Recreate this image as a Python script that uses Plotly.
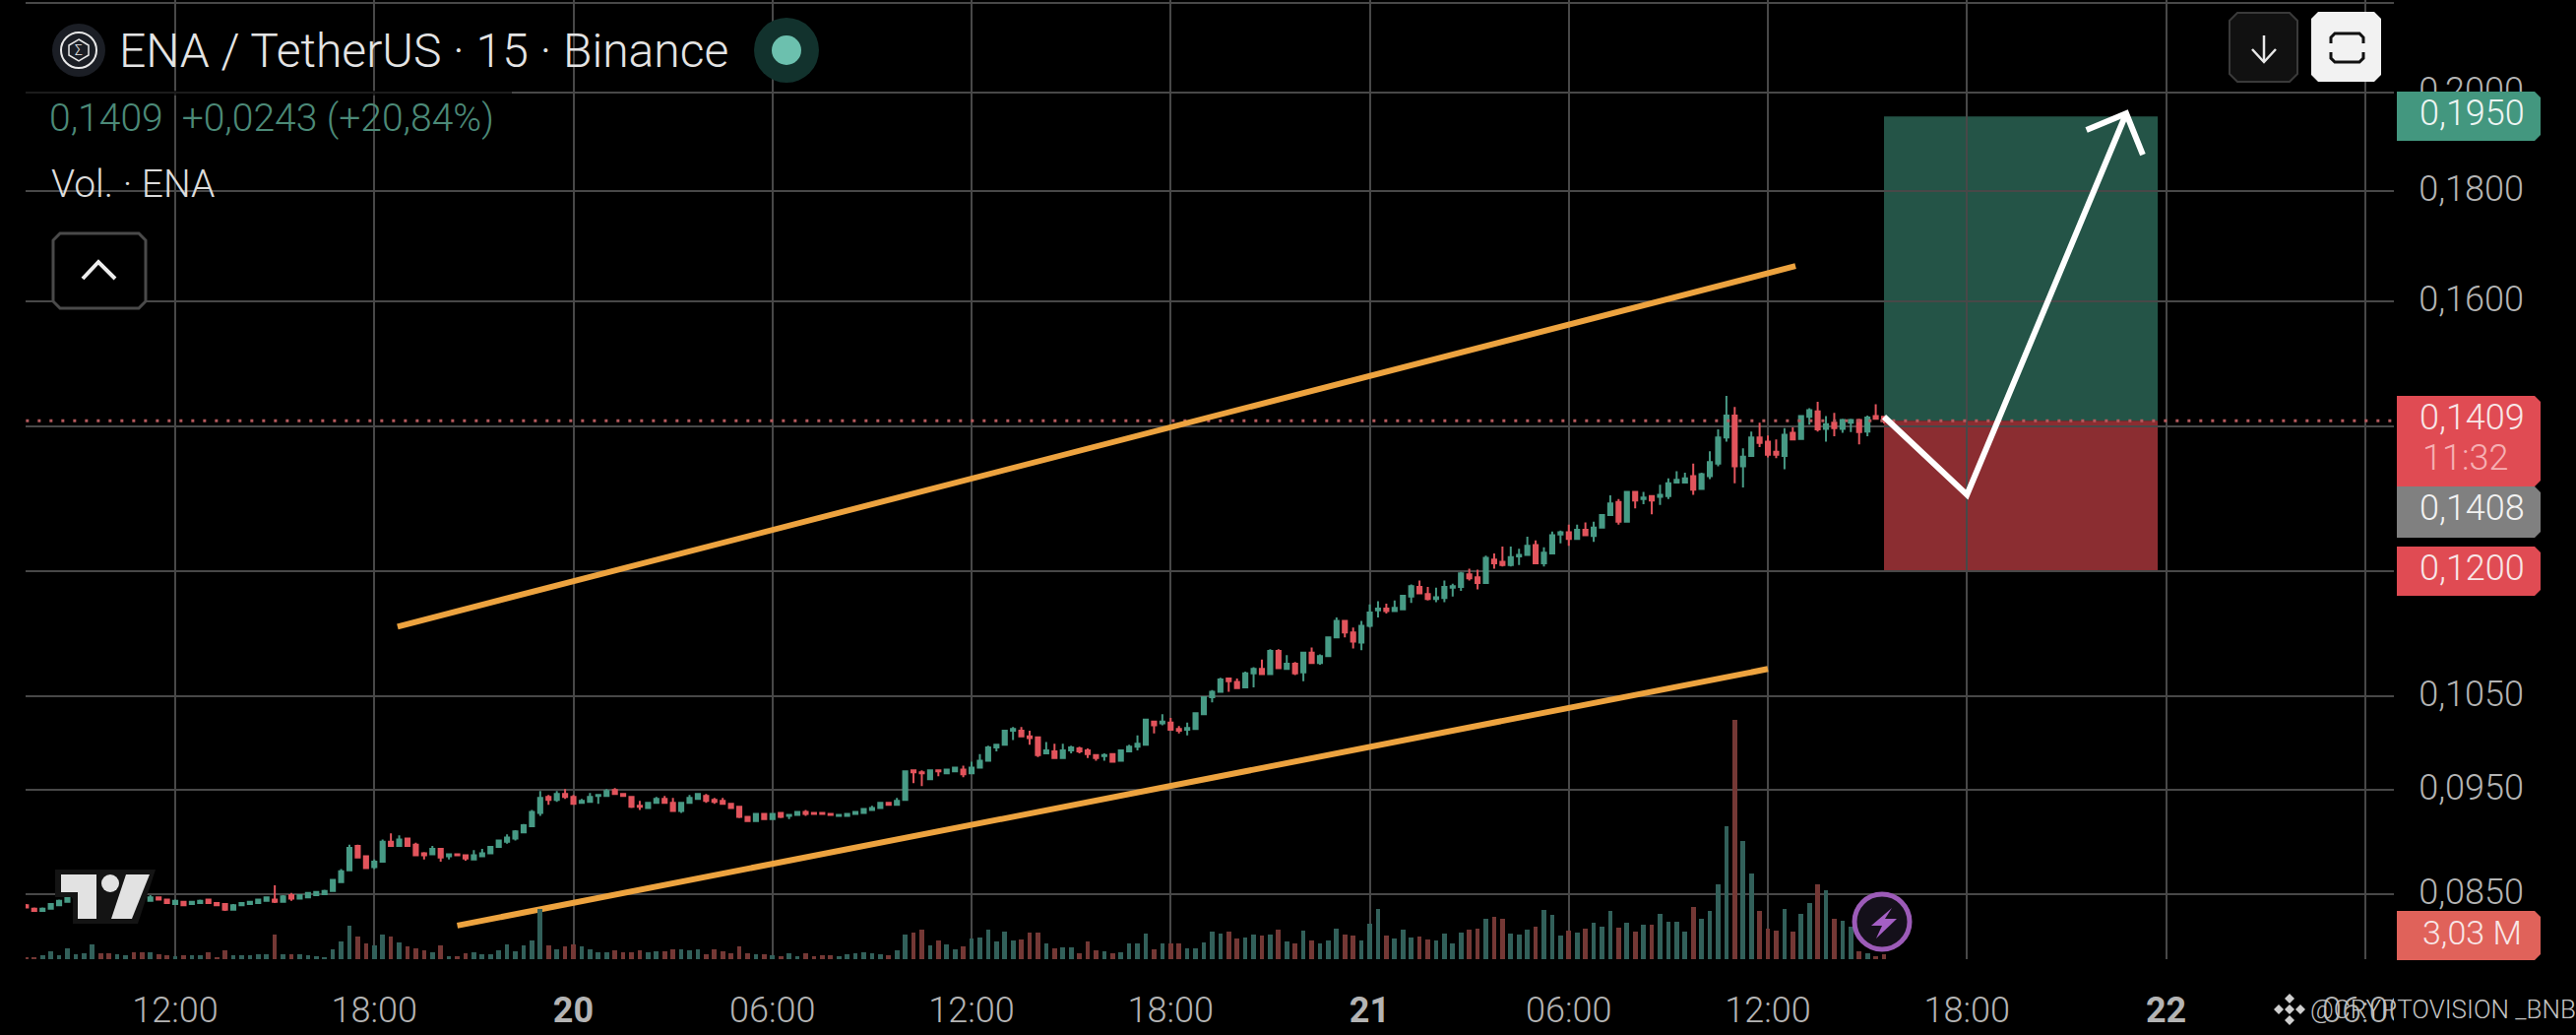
import numpy as np
import pandas as pd
import plotly.graph_objects as go

# Data (15 min bars, ENA/USDT)
bar_start = "2025-01-19 07:30"
opens = [.0840,.0837,.0835,.0837,.0840,.0843,.0847,.0848,.0849,.0851,.0850,.0849,.0850,.0851,.0849,.0844,.0847,.0845,.0841,.0843,
         .0841,.0842,.0845,.0842,.0841,.0836,.0840,.0841,.0842,.0844,.0845,.0843,.0849,.0846,.0847,.0849,.0850,.0853,.0861,.0872,
         .0895,.0885,.0875,.0880,.0899,.0895,.0902,.0896,.0888,.0887,.0892,.0885,.0887,.0886,.0882,.0885,.0888,.0894,.0899,.0902,
         .0908,.0914,.0927,.0943,.0940,.0946,.0943,.0937,.0938,.0944,.0944,.0950,.0946,.0943,.0934,.0932,.0937,.0941,.0937,.0929,
         .0937,.0941,.0944,.0940,.0939,.0936,.0933,.0923,.0919,.0926,.0921,.0927,.0924,.0925,.0928,.0927,.0927,.0926,.0924,.0924,
         .0926,.0927,.0930,.0932,.0937,.0935,.0940,.0970,.0968,.0961,.0970,.0967,.0969,.0971,.0967,.0973,.0980,.0994,.0997,.1012,
         .1012,.1006,.1005,.0988,.0990,.0983,.0991,.0993,.0991,.0986,.0985,.0987,.0980,.0990,.0995,.0997,.1022,.1020,.1021,.1014,
         .1013,.1014,.1030,.1049,.1055,.1070,.1066,.1060,.1076,.1081,.1075,.1102,.1081,.1087,.1077,.1100,.1088,.1096,.1118,.1138,
         .1124,.1112,.1132,.1151,.1153,.1150,.1152,.1168,.1180,.1171,.1165,.1166,.1179,.1180,.1196,.1192,.1185,.1215,.1212,.1208,
         .1219,.1221,.1234,.1210,.1223,.1248,.1251,.1242,.1254,.1246,.1257,.1274,.1292,.1265,.1306,.1296,.1300,.1299,.1300,.1319,
         .1319,.1328,.1310,.1328,.1346,.1384,.1417,.1342,.1357,.1384,.1378,.1363,.1357,.1391,.1382,.1415,.1423,.1397,.1406,.1397,
         .1406,.1410,.1393,.1416,.1415]
closes = [.0838,.0835,.0837,.0841,.0844,.0847,.0848,.0849,.0851,.0850,.0849,.0850,.0851,.0849,.0846,.0847,.0845,.0842,.0844,.0840,
          .0843,.0844,.0842,.0840,.0836,.0840,.0842,.0843,.0845,.0847,.0843,.0848,.0846,.0849,.0851,.0852,.0853,.0863,.0871,.0893,
          .0884,.0874,.0880,.0899,.0895,.0901,.0895,.0886,.0886,.0892,.0884,.0887,.0886,.0883,.0886,.0888,.0894,.0900,.0903,.0909,
          .0915,.0928,.0942,.0940,.0946,.0943,.0936,.0939,.0943,.0945,.0949,.0946,.0944,.0933,.0933,.0937,.0941,.0937,.0929,.0937,
          .0942,.0946,.0939,.0938,.0936,.0932,.0923,.0919,.0926,.0921,.0926,.0923,.0925,.0928,.0926,.0926,.0926,.0925,.0925,.0926,
          .0928,.0931,.0932,.0937,.0935,.0939,.0969,.0968,.0967,.0970,.0969,.0971,.0973,.0966,.0973,.0980,.0994,.0997,.1012,.1014,
          .1006,.1004,.0986,.0991,.0983,.0991,.0994,.0990,.0987,.0983,.0986,.0979,.0991,.0995,.0998,.1024,.1018,.1022,.1013,.1012,
          .1015,.1031,.1049,.1055,.1069,.1067,.1059,.1076,.1081,.1075,.1102,.1082,.1087,.1076,.1100,.1088,.1096,.1118,.1138,.1124,
          .1113,.1132,.1148,.1153,.1150,.1154,.1169,.1181,.1172,.1165,.1167,.1180,.1181,.1197,.1191,.1185,.1217,.1210,.1208,.1218,
          .1221,.1233,.1210,.1224,.1247,.1251,.1242,.1254,.1247,.1257,.1274,.1290,.1265,.1306,.1294,.1298,.1294,.1302,.1318,.1323,
          .1325,.1309,.1331,.1348,.1384,.1417,.1342,.1356,.1384,.1376,.1359,.1359,.1388,.1381,.1416,.1425,.1396,.1404,.1398,.1410,
          .1410,.1392,.1414,.1412,.1409]
highs = [.0841,.0838,.0838,.0842,.0845,.0847,.0849,.0850,.0852,.0852,.0851,.0851,.0852,.0851,.0850,.0849,.0848,.0845,.0845,.0844,
         .0844,.0845,.0846,.0842,.0841,.0841,.0842,.0844,.0846,.0848,.0858,.0849,.0851,.0850,.0852,.0853,.0854,.0864,.0873,.0896,
         .0896,.0885,.0882,.0901,.0907,.0905,.0902,.0898,.0889,.0895,.0893,.0888,.0887,.0887,.0891,.0892,.0895,.0901,.0906,.0910,
         .0916,.0930,.0949,.0945,.0949,.0951,.0945,.0941,.0947,.0946,.0951,.0952,.0947,.0944,.0939,.0938,.0943,.0944,.0942,.0938,
         .0945,.0947,.0946,.0942,.0942,.0937,.0934,.0924,.0927,.0927,.0927,.0928,.0926,.0929,.0930,.0928,.0928,.0927,.0926,.0927,
         .0929,.0932,.0934,.0938,.0938,.0942,.0970,.0971,.0970,.0971,.0971,.0972,.0974,.0975,.0979,.0987,.0996,.0998,.1013,.1016,
         .1016,.1012,.1006,.1000,.0998,.0998,.0996,.0995,.0993,.0987,.0988,.0988,.0992,.0997,.1007,.1025,.1023,.1030,.1026,.1017,
         .1021,.1032,.1050,.1057,.1071,.1071,.1070,.1078,.1083,.1092,.1104,.1104,.1097,.1089,.1101,.1106,.1098,.1119,.1142,.1139,
         .1130,.1138,.1158,.1162,.1159,.1163,.1170,.1183,.1188,.1180,.1179,.1188,.1184,.1199,.1203,.1202,.1220,.1223,.1232,.1232,
         .1229,.1245,.1240,.1231,.1252,.1253,.1261,.1261,.1264,.1265,.1275,.1301,.1296,.1307,.1307,.1306,.1301,.1316,.1325,.1335,
         .1333,.1346,.1333,.1364,.1396,.1447,.1430,.1368,.1393,.1406,.1387,.1381,.1398,.1399,.1417,.1428,.1438,.1416,.1421,.1412,
         .1412,.1412,.1417,.1434,.1416]
lows = [.0838,.0835,.0835,.0837,.0840,.0843,.0846,.0847,.0848,.0849,.0848,.0848,.0849,.0848,.0845,.0844,.0845,.0841,.0841,.0840,
        .0841,.0842,.0842,.0840,.0835,.0836,.0840,.0841,.0842,.0844,.0842,.0843,.0844,.0845,.0847,.0849,.0850,.0852,.0860,.0871,
        .0883,.0874,.0873,.0880,.0894,.0894,.0895,.0885,.0882,.0887,.0880,.0882,.0886,.0881,.0882,.0885,.0888,.0893,.0897,.0900,
        .0908,.0914,.0924,.0935,.0938,.0941,.0936,.0936,.0937,.0936,.0943,.0945,.0944,.0932,.0930,.0932,.0936,.0937,.0928,.0927,
        .0937,.0941,.0937,.0936,.0935,.0932,.0922,.0918,.0919,.0920,.0921,.0922,.0921,.0925,.0924,.0925,.0925,.0924,.0923,.0923,
        .0926,.0927,.0930,.0932,.0935,.0935,.0940,.0957,.0954,.0960,.0964,.0967,.0969,.0963,.0967,.0972,.0980,.0990,.0997,.1002,
        .1005,.0997,.0984,.0987,.0983,.0982,.0988,.0988,.0983,.0980,.0980,.0979,.0980,.0989,.0991,.0997,.1009,.1018,.1012,.1009,
        .1007,.1014,.1029,.1043,.1055,.1055,.1058,.1060,.1060,.1074,.1075,.1081,.1080,.1074,.1067,.1087,.1086,.1096,.1118,.1118,
        .1105,.1103,.1130,.1142,.1147,.1149,.1152,.1160,.1171,.1163,.1161,.1161,.1168,.1175,.1188,.1177,.1185,.1203,.1206,.1206,
        .1208,.1220,.1209,.1206,.1223,.1236,.1233,.1241,.1246,.1238,.1256,.1273,.1261,.1264,.1283,.1289,.1275,.1288,.1296,.1318,
        .1318,.1302,.1309,.1324,.1342,.1378,.1318,.1312,.1356,.1370,.1355,.1354,.1338,.1380,.1381,.1403,.1393,.1378,.1386,.1391,
        .1392,.1374,.1386,.1411,.1405]
volumes_m = [1.4,1.4,2.4,5.0,2.4,6.6,3.0,3.6,9.0,3.6,3.6,2.8,2.4,4.4,4.4,4.4,3.0,2.4,1.6,2.2,
             2.4,2.4,4.4,1.4,5.6,2.4,2.4,2.4,3.0,3.0,15.0,3.0,3.0,3.0,2.4,1.6,1.4,6.0,10.8,20.4,
             13.8,9.8,8.4,15.0,13.8,10.0,7.8,6.8,5.4,4.0,8.4,1.6,1.6,3.6,4.0,2.8,2.8,5.2,8.8,4.8,
             8.4,11.4,30.4,8.4,6.0,7.8,9.0,7.6,6.0,4.4,4.4,5.4,4.2,4.2,5.4,4.4,4.8,4.8,6.0,6.0,
             5.4,6.0,3.0,6.0,4.8,3.4,7.8,3.6,3.0,3.0,2.4,1.8,3.6,1.8,3.6,1.8,2.4,2.4,1.8,3.0,
             3.6,4.2,3.6,3.0,2.4,5.4,15.0,16.2,18.0,8.4,11.4,9.0,6.0,7.8,12.4,13.2,17.8,10.8,16.6,11.4,
             12.0,16.0,16.0,9.6,6.4,7.2,7.2,3.4,10.8,5.4,4.8,3.6,4.2,9.6,9.6,15.4,6.0,9.6,9.6,9.6,
             6.6,6.6,10.2,16.6,15.4,16.6,12.6,13.2,15.0,14.4,15.0,17.8,10.8,9.6,17.2,11.4,9.6,11.4,18.4,14.8,
             14.2,11.4,21.4,30.4,14.2,12.4,17.8,13.0,13.6,11.8,11.4,15.4,9.6,16.0,17.8,18.4,24.4,25.6,24.4,15.4,
             14.8,17.8,19.6,29.8,26.8,14.2,17.2,16.0,18.4,22.0,19.8,29.4,19.2,22.2,16.8,21.0,21.0,27.6,23.0,23.0,
             16.8,31.6,24.8,29.4,45.6,81.2,145.6,71.8,52.4,29.4,18.6,17.4,30.4,16.8,27.6,34.4,45.6,42.2,24.8,23.4,
             19.8,4.6,3.4,2.0,3.03]

x_ticks = ["2025-01-19 12:00", "2025-01-19 18:00", "2025-01-20 00:00", "2025-01-20 06:00",
           "2025-01-20 12:00", "2025-01-20 18:00", "2025-01-21 00:00", "2025-01-21 06:00",
           "2025-01-21 12:00", "2025-01-21 18:00", "2025-01-22 00:00", "2025-01-22 06:00"]
x_labels = ["12:00", "18:00", "<b>20</b>", "06:00", "12:00", "18:00", "<b>21</b>", "06:00",
            "12:00", "18:00", "<b>22</b>", "06:00"]
y_ticks = [0.22, 0.20, 0.18, 0.16, 0.14, 0.12, 0.105, 0.095, 0.085]
y_labels = ["", "0,2000", "0,1800", "0,1600", "0,1400", "0,1200", "0,1050", "0,0950", "0,0850"]

# drawings on the chart
upper_x = ["2025-01-19 18:42", "2025-01-21 12:50"]
upper_y = [0.1131, 0.1662]
lower_x = ["2025-01-19 20:30", "2025-01-21 12:00"]
lower_y = [0.0822, 0.1081]
path_x = ["2025-01-21 15:30", "2025-01-21 18:00", "2025-01-21 22:48"]
path_y = [0.1415, 0.1302, 0.1956]
head_x = ["2025-01-21 21:36", "2025-01-21 22:48", "2025-01-21 23:18"]
head_y = [0.1922, 0.1956, 0.1872]
box_x = ["2025-01-21 15:30", "2025-01-21 23:45"]
target, entry, stop = 0.1950, 0.1409, 0.1200

W, H = 2617, 1051
UP, DOWN = "#479a85", "#e2545c"
VOL_UP, VOL_DOWN = "#32605a", "#743835"
FONT = "Roboto"
TICK = "#b4b4b4"

times = pd.date_range(bar_start, periods=len(opens), freq="15min")
vol_colors = [VOL_UP if c >= o else VOL_DOWN for o, c in zip(opens, closes)]


def fx(px):
    return px / W


def fy(py):
    return 1 - py / H


def path_shape(points, fill=None, line=None, width=0, close=True):
    d = "M" + " L".join(f"{fx(a):.5f},{fy(b):.5f}" for a, b in points) + (" Z" if close else "")
    return dict(type="path", xref="paper", yref="paper", path=d, fillcolor=fill,
                line=dict(color=line or "rgba(0,0,0,0)", width=width), layer="above")


def box(x0, y0, x1, y1, fill=None, line=None, width=0):
    return dict(type="rect", xref="paper", yref="paper", x0=fx(x0), x1=fx(x1), y0=fy(y0), y1=fy(y1),
                fillcolor=fill, line=dict(color=line or "rgba(0,0,0,0)", width=width), layer="above")


def circle(cx, cy, r, fill=None, line=None, width=0):
    return dict(type="circle", xref="paper", yref="paper", x0=fx(cx - r), x1=fx(cx + r), y0=fy(cy - r),
                y1=fy(cy + r), fillcolor=fill, line=dict(color=line or "rgba(0,0,0,0)", width=width), layer="above")


def round_box(x0, y0, x1, y1, r, fill=None, line=None, width=0):
    return path_shape([(x0 + r, y0), (x1 - r, y0), (x1, y0 + r), (x1, y1 - r), (x1 - r, y1), (x0 + r, y1),
                       (x0, y1 - r), (x0, y0 + r)], fill=fill, line=line, width=width)


def tag(y0, y1, color):
    r = 6
    x0, x1 = 2435, 2581
    return path_shape([(x0, y0), (x1 - r, y0), (x1, y0 + r), (x1, y1 - r), (x1 - r, y1), (x0, y1)], fill=color)


def text(x, y, s, size, color, anchor="left", weight=300):
    return dict(xref="paper", yref="paper", x=fx(x), y=fy(y), text=s, showarrow=False, xanchor=anchor,
                yanchor="middle", font=dict(family=FONT, size=size, color=color, weight=weight))


def diamond(cx, cy, r):
    return [(cx, cy - r), (cx + r, cy), (cx, cy + r), (cx - r, cy)]


fig = go.Figure()
fig.add_trace(go.Bar(x=times, y=volumes_m, yaxis="y2", width=500000, marker=dict(color=vol_colors, line_width=0),
                     hoverinfo="skip"))
fig.add_trace(go.Candlestick(x=times, open=opens, high=highs, low=lows, close=closes, whiskerwidth=0,
                             increasing=dict(line=dict(color=UP, width=2), fillcolor=UP),
                             decreasing=dict(line=dict(color=DOWN, width=2), fillcolor=DOWN),
                             hoverinfo="skip"))
fig.add_trace(go.Scatter(x=[times[0], "2025-01-22 07:00"], y=[entry, entry], mode="lines",
                         line=dict(color="#b5595d", width=3, dash="3px,9px"), hoverinfo="skip"))
for xs, ys in [(upper_x, upper_y), (lower_x, lower_y)]:
    fig.add_trace(go.Scatter(x=xs, y=ys, mode="lines", line=dict(color="#eda33f", width=6), hoverinfo="skip"))
for xs, ys in [(path_x, path_y), (head_x, head_y)]:
    fig.add_trace(go.Scatter(x=xs, y=ys, mode="lines", line=dict(color="#ffffff", width=6), hoverinfo="skip"))

shapes = [
    dict(type="rect", xref="x", yref="y", x0=box_x[0], x1=box_x[1], y0=entry, y1=target,
         fillcolor="rgba(60,140,118,0.6)", line_width=0, layer="below"),
    dict(type="rect", xref="x", yref="y", x0=box_x[0], x1=box_x[1], y0=stop, y1=entry,
         fillcolor="rgba(232,75,82,0.6)", line_width=0, layer="below"),
    # price scale hides whatever runs past the chart
    box(2432, 990, W, H, fill="#000000"),
    tag(93, 143, "#43977f"),
    tag(402, 494, "#e04b53"),
    tag(494, 546, "#808080"),
    tag(555, 605, "#e04b53"),
    tag(925, 975, "#e0625a"),
    # header
    box(26, 92, 520, 97, fill="rgba(0,0,0,0.6)"),
    circle(80, 51, 27, fill="#1b1e25"),
    circle(80, 51, 18, line="#e8e8e8", width=2),
    path_shape([(80, 40), (90, 46), (90, 56), (80, 62), (70, 56), (70, 46)], line="#e8e8e8", width=1.5),
    circle(799, 51, 33, fill="#12322d"),
    circle(799, 51, 15, fill="#6cc0ae"),
    round_box(54, 237, 148, 313, 7, fill="#000000", line="#4a4a4a", width=3),
    path_shape([(84, 283), (100, 266), (117, 283)], line="#eeeeee", width=4, close=False),
    # top right buttons
    round_box(2265, 13, 2334, 83, 8, fill="#111111", line="#3a3a3a", width=2),
    path_shape([(2300, 36), (2300, 62)], line="#e8e8e8", width=2.5, close=False),
    path_shape([(2288, 50), (2300, 63), (2312, 50)], line="#e8e8e8", width=2.5, close=False),
    round_box(2348, 12, 2419, 83, 7, fill="#f2f2f2"),
    path_shape([(2368, 44), (2368, 38), (2372, 34), (2397, 34), (2401, 38), (2401, 44)], line="#111111", width=3,
               close=False),
    path_shape([(2368, 53), (2368, 59), (2372, 63), (2397, 63), (2401, 59), (2401, 53)], line="#111111", width=3,
               close=False),
    # tradingview mark
    path_shape([(56, 883), (158, 883), (140, 938), (74, 938), (74, 911), (56, 911)], fill="#141414"),
    path_shape([(62, 888), (98, 888), (98, 933), (79, 933), (79, 906), (62, 906)], fill="#e2e2e2"),
    circle(112, 897, 9, fill="#e2e2e2"),
    path_shape([(128, 888), (152, 888), (134, 933), (113, 933)], fill="#e2e2e2"),
    # lightning badge
    circle(1912, 936, 28, fill="#14101a", line="#9c5bb8", width=5),
    path_shape([(1922, 922), (1901, 940), (1912, 940), (1906, 953), (1927, 933), (1915, 933)], fill="#a45fc4"),
    # watermark mark
    path_shape(diamond(2326, 1025, 5), fill="#cfcfcf"),
    path_shape(diamond(2326, 1014, 5), fill="#cfcfcf"),
    path_shape(diamond(2326, 1036, 5), fill="#cfcfcf"),
    path_shape(diamond(2315, 1025, 5), fill="#cfcfcf"),
    path_shape(diamond(2337, 1025, 5), fill="#cfcfcf"),
]

annotations = [
    text(119, 51, "ENA / TetherUS · 15 · Binance", 48, "#e4e4e4"),
    text(48, 120, "0,1409&nbsp;&nbsp;+0,0243 (+20,84%)", 39, "#4c8a78"),
    text(50, 187, "Vol. · ENA", 39, "#dcdcdc"),
    text(80, 51, "Σ", 14, "#e8e8e8", anchor="center"),
    text(2511, 115, "0,1950", 36, "#eef5f3", anchor="center"),
    text(2511, 424, "0,1409", 36, "#f8e6e7", anchor="center"),
    text(2459, 465, "11:32", 36, "#f6b0b3"),
    text(2511, 516, "0,1408", 36, "#f2f2f2", anchor="center"),
    text(2511, 577, "0,1200", 36, "#f8e6e7", anchor="center"),
    text(2511, 947, "3,03 M", 34, "#f8e6e7", anchor="center"),
    text(2345, 1025, "@CRYPTOVISION _BNB", 26, "#c4c4c4"),
]

fig.update_layout(
    width=W, height=H, margin=dict(l=0, r=0, t=0, b=0), autosize=False,
    paper_bgcolor="#000000", plot_bgcolor="#000000", showlegend=False, bargap=0,
    shapes=shapes, annotations=annotations,
    xaxis=dict(type="date", domain=[fx(26), fx(2432)], range=["2025-01-19 07:29:24", "2025-01-22 06:52:00"],
               tickmode="array", tickvals=x_ticks, ticktext=x_labels, showgrid=True, gridcolor="#484848", gridwidth=2,
               rangeslider=dict(visible=False), ticks="outside", ticklen=20, tickcolor="#000000", zeroline=False,
               showline=False, automargin=False, tickfont=dict(family=FONT, size=36, color=TICK, weight=300)),
    yaxis=dict(type="log", domain=[fy(974), 1], side="right", range=[np.log10(0.0793), np.log10(0.2208)],
               tickmode="array", tickvals=y_ticks, ticktext=y_labels, showgrid=True, gridcolor="#484848", gridwidth=2,
               ticks="outside", ticklen=17, tickcolor="#000000", zeroline=False, showline=False, ticklabelshift=-3,
               automargin=False, tickfont=dict(family=FONT, size=36, color=TICK, weight=300)),
    yaxis2=dict(domain=[fy(974), 1], overlaying="y", side="left", range=[0, 584], visible=False, automargin=False),
)

fig.write_html("out.html", config={"displayModeBar": False},
               post_script="document.body.style.margin='0';document.body.style.overflow='hidden';")
